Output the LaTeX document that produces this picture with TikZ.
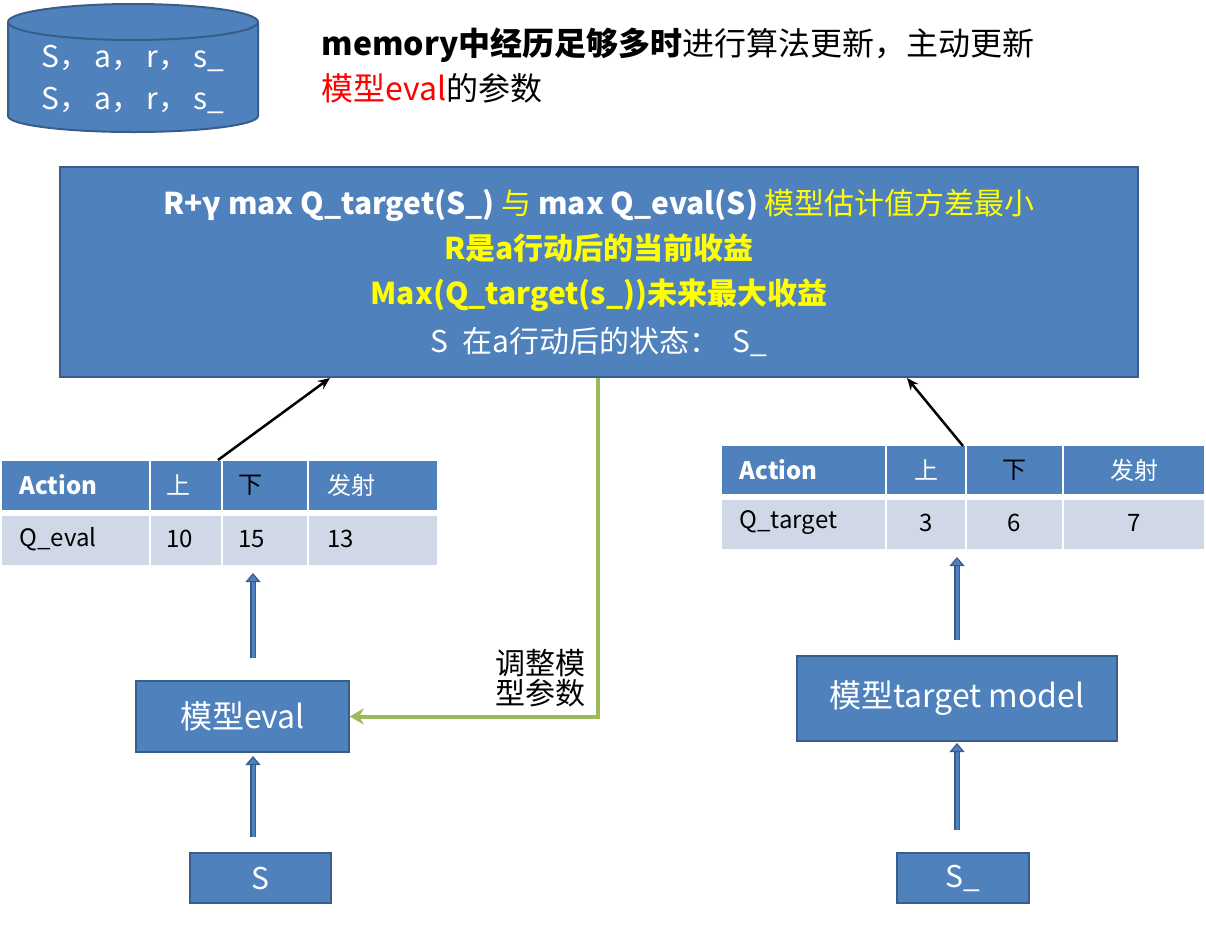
\documentclass[tikz,border=0pt]{standalone}
\usepackage{fontspec}
\setmainfont{Noto Sans CJK SC}
\usetikzlibrary{arrows.meta,shapes.geometric}
\definecolor{bl}{HTML}{4F81BD}
\definecolor{bd}{HTML}{385D8A}
\definecolor{lt}{HTML}{D0D8E8}
\definecolor{gr}{HTML}{9BBB59}
\definecolor{yl}{HTML}{FFFF00}
\tikzset{
 bbox/.style={draw=bd,line width=1.5pt,fill=bl,text=white,inner sep=0pt},
 hd/.style={fill=bl,text=white,inner sep=0pt,anchor=north west},
 dt/.style={fill=lt,text=black,inner sep=0pt,anchor=north west},
 blk/.style={double=bl,draw=bd,line width=1.2pt,double distance=3pt,-{Triangle[length=9pt,width=15pt,fill=bl]}},
 karr/.style={line width=2.5pt,-{Stealth[length=12pt,width=10pt]}},
 fs/.style={font=\fontsize{#1}{#1}\selectfont}
}
\begin{document}
\begin{tikzpicture}[x=1pt,y=-1pt]
\useasboundingbox (0,0) rectangle (1206,924);
% cylinder
\draw[bd,line width=2pt,fill=bl] (8,22) -- (8,116) arc[start angle=180,end angle=360,x radius=125pt,y radius=16pt] -- (258,22) arc[start angle=0,end angle=180,x radius=125pt,y radius=18pt] -- cycle;
\draw[bd,line width=2pt] (8,22) arc[start angle=180,end angle=360,x radius=125pt,y radius=18pt];
\node[fs=30,text=white] (m1) at (133,58) {S，\,a，\,r，\,s\_};
\node[fs=30,text=white] (m2) at (133,100) {S，\,a，\,r，\,s\_};
% title
\node[fs=32,anchor=west] (t1) at (318,45) {\textbf{memory中经历足够多时}进行算法更新，主动更新};
\node[fs=32,anchor=west] (t2) at (318,88) {\textcolor{red}{模型eval}的参数};
% big box
\node[bbox,minimum width=1078pt,minimum height=210pt] (big) at (599,272) {};
\node[fs=30] (l1) at (599,205) {\textcolor{white}{\textbf{R+γ max Q\_target(S\_)}} \textcolor{yl}{与} \textcolor{white}{\textbf{max Q\_eval(S)}} \textcolor{yl}{模型估计值方差最小}};
\node[fs=30,text=yl] (l2) at (599,248) {\textbf{R是a行动后的当前收益}};
\node[fs=30,text=yl] (l3) at (599,295) {\textbf{Max(Q\_target(s\_))未来最大收益}};
\node[fs=30,text=white] (l4) at (599,342) {S\ \ 在a行动后的状态：\ \ S\_};
% left table
\begin{scope}[fs=24]
\node[hd,minimum width=147pt,minimum height=49pt] (a1) at (2,461) {};
\node[anchor=west,text=white] at (16,485) {\textbf{Action}};
\node[hd,minimum width=70pt,minimum height=49pt] (a2) at (151,461) {};
\node[anchor=west,text=white] at (163,485) {上};
\node[hd,minimum width=84pt,minimum height=49pt] (a3) at (223,461) {};
\node[anchor=west,text=black] at (235,485) {下};
\node[hd,minimum width=128pt,minimum height=49pt] (a4) at (309,461) {};
\node[anchor=west,text=white] at (324,485) {发射};
\node[dt,minimum width=147pt,minimum height=49pt] (c1) at (2,516) {};
\node[anchor=west] at (16,539) {Q\_eval};
\node[dt,minimum width=70pt,minimum height=49pt] (c2) at (151,516) {};
\node[anchor=west] at (163,539) {10};
\node[dt,minimum width=84pt,minimum height=49pt] (c3) at (223,516) {};
\node[anchor=west] at (235,539) {15};
\node[dt,minimum width=128pt,minimum height=49pt] (c4) at (309,516) {};
\node[anchor=west] at (324,539) {13};
% right table
\node[hd,minimum width=163pt,minimum height=48pt] (r1) at (722,446) {};
\node[anchor=west,text=white] at (736,470) {\textbf{Action}};
\node[hd,minimum width=78pt,minimum height=48pt] (r2) at (887,446) {};
\node[text=white] at (926,470) {上};
\node[hd,minimum width=95pt,minimum height=48pt] (r3) at (967,446) {};
\node[text=black] at (1014,470) {下};
\node[hd,minimum width=140pt,minimum height=48pt] (r4) at (1064,446) {};
\node[text=white] at (1134,470) {发射};
\node[dt,minimum width=163pt,minimum height=49pt] (d1) at (722,500) {};
\node[anchor=west] at (736,523) {Q\_target};
\node[dt,minimum width=78pt,minimum height=49pt] (d2) at (887,500) {};
\node at (926,523) {3};
\node[dt,minimum width=95pt,minimum height=49pt] (d3) at (967,500) {};
\node at (1014,523) {6};
\node[dt,minimum width=140pt,minimum height=49pt] (d4) at (1064,500) {};
\node at (1134,523) {7};
\end{scope}
% model boxes
\node[bbox,fs=32,minimum width=213pt,minimum height=71pt] (ev) at (242.5,716.5) {模型eval};
\node[bbox,fs=32,minimum width=320pt,minimum height=85pt] (tg) at (957,698.5) {模型target model};
\node[bbox,fs=30,minimum width=141pt,minimum height=50pt] (s) at (260.5,878) {S};
\node[bbox,fs=30,minimum width=132pt,minimum height=50pt] (s2) at (963,878) {S\_};
% block arrows
\coordinate (e1) at (253,837); \coordinate (e2) at (253,756);
\coordinate (e3) at (253,658); \coordinate (e4) at (253,573);
\coordinate (f1) at (957,830); \coordinate (f2) at (957,743);
\coordinate (f3) at (957,640); \coordinate (f4) at (957,557);
\draw[blk] (e1) -- (e2);
\draw[blk] (e3) -- (e4);
\draw[blk] (f1) -- (f2);
\draw[blk] (f3) -- (f4);
% black arrows
\coordinate (k1) at (218,460); \coordinate (k2) at (963,446);
\draw[karr] (k1) -- (330,378);
\draw[karr] (k2) -- (907,378);
% green
\coordinate (g0) at (598,378);
\draw[gr,line width=4pt,-{Stealth[length=14pt,width=16pt]}] (g0) |- (ev.east);
\node[fs=30,anchor=west,align=left] (adj) at (492,678) {调整模\\型参数};
\end{tikzpicture}
\end{document}
